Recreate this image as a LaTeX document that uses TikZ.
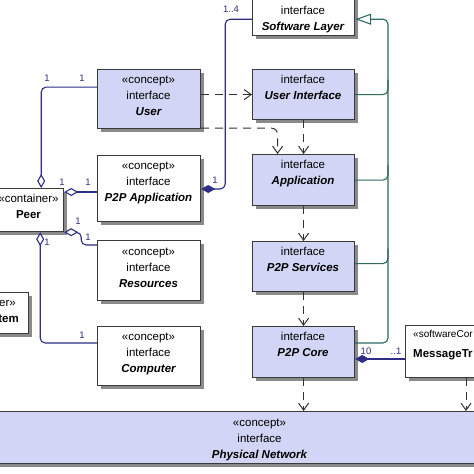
\documentclass[tikz,border=0pt]{standalone}
\usepackage{fontspec}
\setmainfont{Liberation Sans}
\usetikzlibrary{arrows.meta,shadows,calc}
\definecolor{boxblue}{HTML}{D2D5F5}
\definecolor{boxline}{HTML}{3A3A3A}
\definecolor{assoc}{HTML}{2E2E85}
\definecolor{gen}{HTML}{2F6A5E}
\definecolor{dep}{HTML}{333333}
\definecolor{shade}{HTML}{8A8A8A}
\begin{document}
\begin{tikzpicture}[x=1pt,y=-1pt,
  umlbox/.style={draw=boxline, line width=1.2pt, fill=white, inner sep=0pt, anchor=north west,
    drop shadow={shadow xshift=3pt,shadow yshift=-3pt,fill=shade,opacity=1}},
  bluebox/.style={umlbox, fill=boxblue},
  txt/.style={font=\fontsize{11.5}{16}\selectfont, align=center, anchor=base, inner sep=0pt},
  mult/.style={font=\fontsize{9.5}{11}\selectfont, text=assoc, inner sep=0pt},
  assocline/.style={draw=assoc, line width=1.1pt, rounded corners=5pt},
  genline/.style={draw=gen, line width=1.1pt, rounded corners=5pt},
  depline/.style={draw=dep, line width=1pt, dash pattern=on 8pt off 6pt, -{Straight Barb[length=7pt,width=10pt]}},
  hdia/.style={{Diamond[open,fill=white,length=14pt,width=8pt]}-},
  fdia/.style={{Diamond[fill=assoc,length=14pt,width=8pt]}-},
]
\useasboundingbox (0,0) rectangle (474,474);
\fill[white] (0,0) rectangle (474,474);
\clip (0,0) rectangle (474,474);

% boxes
\node[umlbox, minimum width=102pt, minimum height=65pt] (swl) at (252,-30) {};
\node[bluebox, minimum width=103pt, minimum height=59pt] (user) at (97,69) {};
\node[umlbox, minimum width=103pt, minimum height=66pt] (p2papp) at (97,155) {};
\node[umlbox, minimum width=69pt, minimum height=43pt] (peer) at (-6,188) {};
\node[umlbox, minimum width=103pt, minimum height=60pt] (resources) at (97,240) {};
\node[umlbox, minimum width=103pt, minimum height=59pt] (computer) at (97,326) {};
\node[umlbox, minimum width=68pt, minimum height=41pt] (system) at (-40,292) {};
\node[bluebox, minimum width=102pt, minimum height=50pt] (ui) at (252,69) {};
\node[bluebox, minimum width=102pt, minimum height=51pt] (app) at (252,154) {};
\node[bluebox, minimum width=102pt, minimum height=50pt] (services) at (252,241) {};
\node[bluebox, minimum width=102pt, minimum height=51pt] (pcore) at (252,326) {};
\node[umlbox, minimum width=120pt, minimum height=52pt] (msg) at (405,325) {};
\node[bluebox, minimum width=540pt, minimum height=52pt] (pnet) at (-30,411) {};

% texts (anchor = baseline of the last line)
\node[txt] (swlT) at (303,30) {interface\\{\bfseries\itshape Software Layer}};
\node[txt] (userT) at (148.5,115) {«concept»\\interface\\{\bfseries\itshape User}};
\node[txt] (p2pappT) at (148.5,201) {«concept»\\interface\\{\bfseries\itshape P2P Application}};
\node[txt] (peerT) at (28.5,218) {«container»\\{\bfseries Peer}};
\node[txt] (resT) at (148.5,287) {«concept»\\interface\\{\bfseries\itshape Resources}};
\node[txt] (compT) at (148.5,372) {«concept»\\interface\\{\bfseries\itshape Computer}};
\node[txt, anchor=base east] (sysT1) at (16,306) {er»};
\node[txt, anchor=base east] (sysT2) at (19,322) {\bfseries tem};
\node[txt] (uiT) at (303,99) {interface\\{\bfseries\itshape User Interface}};
\node[txt] (appT) at (303,184) {interface\\{\bfseries\itshape Application}};
\node[txt] (servT) at (303,271) {interface\\{\bfseries\itshape P2P Services}};
\node[txt] (coreT) at (303,356) {interface\\{\bfseries\itshape P2P Core}};
\node[txt, anchor=base west, font=\fontsize{10}{12}\selectfont] (msgT1) at (413,337) {«softwareCor};
\node[txt, anchor=base west] (msgT2) at (413,357) {\bfseries MessageTr};
\node[txt] (pnetT) at (259.5,458) {«concept»\\interface\\{\bfseries\itshape Physical Network}};

% associations
\draw[assocline,hdia] ([xshift=-23pt]peer.north east) |- ([yshift=12pt]user.west);
\coordinate (pa) at ([yshift=-4pt]peer.north east);
\draw[assocline,hdia] (pa) -- (pa -| p2papp.west);
\draw[assocline,hdia] (peer.south east) -- ++(17,0) |- ([yshift=-5pt]resources.north west);
\draw[assocline,hdia] ([xshift=-24pt]peer.south east) |- ([yshift=-17pt]computer.north west);
\draw[assocline,fdia] ([yshift=-34pt]p2papp.north east) -- ++(24,0) |- ([yshift=17pt]swl.south west);
\coordinate (pcM) at ([yshift=-33pt]pcore.north east);
\draw[assocline,fdia] (pcM) -- (pcM -| msg.west);

% generalizations
\coordinate (busx) at (388,0);
\coordinate (swlE) at ([yshift=17pt]swl.south east);
\coordinate (pcE) at ([yshift=-17pt]pcore.north east);
\draw[genline,-{Triangle[open,fill=white,length=16pt,width=11pt]}] (pcE) -- (pcE -| busx) -- (busx |- swlE) -- (swlE);
\draw[genline] (ui.east) -- (ui.east -| busx) -- ++(0,-15);
\draw[genline] (app.east) -- (app.east -| busx) -- ++(0,-15);
\draw[genline] ([yshift=3pt]services.east) -- ([yshift=3pt]services.east -| busx) -- ++(0,-15);

% dependencies
\draw[depline] (user.east |- ui.west) -- (ui.west);
\draw[depline, rounded corners=6pt] ([yshift=1pt]user.south east) -| ([xshift=-26pt]app.north);
\draw[depline] (ui.south) -- (app.north);
\draw[depline] (app.south) -- (services.north);
\draw[depline] (services.south) -- (pcore.north);
\draw[depline] (pcore.south) -- (pcore.south |- pnet.north);
\coordinate (msgB) at ([xshift=61pt]msg.south west);
\draw[depline] (msgB) -- (msgB |- pnet.north);

% multiplicities
\node[mult] (m1) at (47,78) {1};
\node[mult] (m2) at (82,78) {1};
\node[mult] (m3) at (62,182) {1};
\node[mult] (m4) at (88,182) {1};
\node[mult] (m5) at (78,221) {1};
\node[mult] (m6) at (88,237) {1};
\node[mult] (m7) at (47,242) {1};
\node[mult] (m8) at (82,335) {1};
\node[mult] (m9) at (215,180) {1};
\node[mult] (m10) at (231,9) {1..4};
\node[mult] (m11) at (366,351) {10};
\node[mult] (m12) at (396,351) {..1};
\end{tikzpicture}
\end{document}
